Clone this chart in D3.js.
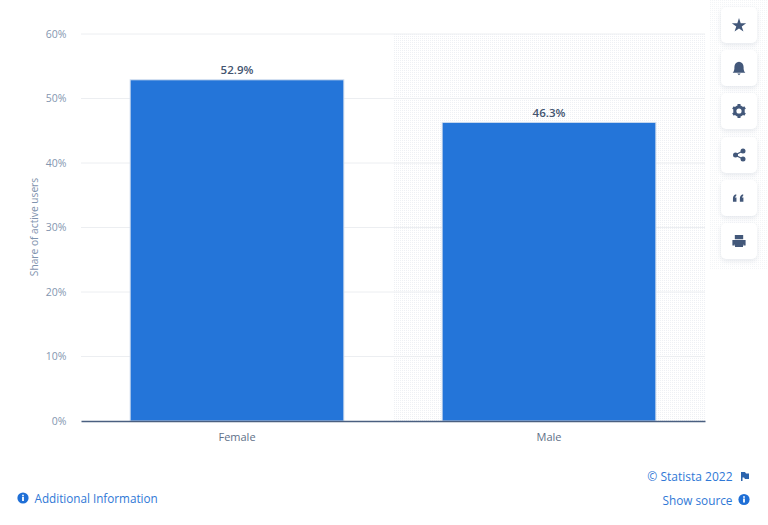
<!DOCTYPE html>
<html>
<head>
<meta charset="utf-8">
<script src="https://cdn.jsdelivr.net/npm/d3@7"></script>
<style>
  html, body { margin: 0; padding: 0; background: #fff; }
  svg { display: block; font-family: "Open Sans", "Noto Sans", sans-serif; }
</style>
</head>
<body>
<svg id="chart" width="768" height="525"></svg>
<script>
const categories = ["Female", "Male"];
const shares = [52.9, 46.3];
const yTicks = [0, 10, 20, 30, 40, 50, 60];
const yTitle = "Share of active users";

const svg = d3.select("#chart");
const plotLeft = 81, plotRight = 705, plotTop = 34, plotBottom = 421;

const x = d3.scaleBand().domain(categories).range([plotLeft, plotRight])
    .paddingInner(0.315).paddingOuter(0.1575);
const y = d3.scaleLinear().domain([0, 60]).range([plotBottom, plotTop]);

// faint dither behind the right half of the plot and the side buttons
const defs = svg.append("defs");
defs.append("pattern")
    .attr("id", "dots").attr("width", 2).attr("height", 2)
    .attr("patternUnits", "userSpaceOnUse")
  .append("rect").attr("width", 1).attr("height", 1).attr("fill", "#eef0f4");
defs.append("filter").attr("id", "soft")
    .attr("x", "-30%").attr("y", "-30%").attr("width", "160%").attr("height", "160%")
  .append("feDropShadow")
    .attr("dx", 0).attr("dy", 2).attr("stdDeviation", 2.5)
    .attr("flood-color", "#d5dae2").attr("flood-opacity", 0.6);

svg.append("rect").attr("x", 393).attr("y", plotTop).attr("width", plotRight - 393).attr("height", plotBottom - plotTop)
    .attr("fill", "url(#dots)");
svg.append("rect").attr("x", 710).attr("y", 0).attr("width", 58).attr("height", 270)
    .attr("fill", "url(#dots)").attr("opacity", 0.7);

// grid
svg.append("g").selectAll("line").data(yTicks.filter(d => d > 0)).join("line")
    .attr("x1", plotLeft).attr("x2", plotRight)
    .attr("y1", d => y(d)).attr("y2", d => y(d))
    .attr("stroke", "#eceef1").attr("stroke-width", 1);

// y axis
const yAxis = svg.append("g")
    .attr("transform", `translate(${plotLeft},0)`)
    .call(d3.axisLeft(y).tickValues(yTicks).tickFormat(d => d + "%").tickSize(0).tickPadding(14.5));
yAxis.attr("font-family", null);
yAxis.select(".domain").remove();
yAxis.selectAll("text").attr("fill", "#8496b0").attr("font-size", 10.5);

svg.append("text")
    .attr("transform", "translate(37.5,227) rotate(-90)")
    .attr("text-anchor", "middle")
    .attr("fill", "#7f93ae").attr("font-size", 10.2)
    .text(yTitle);

// bars
const rows = categories.map((c, i) => ({c, v: shares[i]}));
svg.append("g").selectAll("rect").data(rows).join("rect")
    .attr("x", d => x(d.c))
    .attr("y", d => y(d.v))
    .attr("width", x.bandwidth())
    .attr("height", d => y(0) - y(d.v))
    .attr("fill", "#2475d9")
    .attr("stroke", "#d3dfef").attr("stroke-width", 1);

svg.append("g").selectAll("text").data(rows).join("text")
    .attr("x", d => x(d.c) + x.bandwidth() / 2)
    .attr("y", d => y(d.v) - 5.5)
    .attr("text-anchor", "middle")
    .attr("fill", "#43546f").attr("font-size", 11.5).attr("font-weight", 600)
    .text(d => d.v.toFixed(1) + "%");

// x axis
const xAxis = svg.append("g")
    .attr("transform", `translate(0,${plotBottom})`)
    .call(d3.axisBottom(x).tickSize(0).tickPadding(12));
xAxis.attr("font-family", null);
xAxis.select(".domain").attr("stroke", "#4a5f80").attr("stroke-width", 1.5);
xAxis.selectAll("text").attr("fill", "#5f7189").attr("font-size", 11);

// footer
const blue = "#2f78d6";
function infoIcon(cx, cy) {
  svg.append("circle").attr("cx", cx).attr("cy", cy).attr("r", 5.6).attr("fill", "#1f6fd6");
  svg.append("circle").attr("cx", cx).attr("cy", cy - 2.5).attr("r", 0.9).attr("fill", "#fff");
  svg.append("rect").attr("x", cx - 0.9).attr("y", cy - 1).attr("width", 1.8).attr("height", 4).attr("fill", "#fff");
}
infoIcon(23, 498);
svg.append("text").attr("x", 34.5).attr("y", 502.5)
    .attr("fill", blue).attr("font-size", 11.7).text("Additional Information");

svg.append("text").attr("x", 732.5).attr("y", 481)
    .attr("text-anchor", "end").attr("fill", blue).attr("font-size", 12).text("© Statista 2022");
svg.append("path").attr("transform", "translate(740,472)")
    .attr("d", "M1 0h4l1 1.500h3v5.500h-4l-1-1.500h-1.500v3.500h-1.500z").attr("fill", "#2c64ad");
svg.append("text").attr("x", 732.5).attr("y", 504.5)
    .attr("text-anchor", "end").attr("fill", blue).attr("font-size", 11.8).text("Show source");
infoIcon(744, 499.5);

// side buttons
const buttonTops = [7, 50, 93, 137, 180, 223];
const iconColor = "#43587a";
const icons = [
  g => g.append("path").attr("d", d3.symbol(d3.symbolStar, 64)()).attr("transform", "translate(0,0.5)").attr("fill", iconColor),
  g => g.append("path").attr("transform", "translate(0,-0.5) scale(1.15)")
      .attr("d", "M-5.500 4.500c1.500-1.500 1.500-3 1.500-5a4 4.500 0 0 1 8 0c0 2 0 3.500 1.500 5zM-1.500 5.300h3l-1.500 1.500z").attr("fill", iconColor),
  g => {
    g.append("circle").attr("r", 4.2).attr("fill", "none").attr("stroke", iconColor).attr("stroke-width", 3.2);
    g.selectAll("rect").data(d3.range(6)).join("rect")
        .attr("x", -1.5).attr("y", -7).attr("width", 3).attr("height", 2.4)
        .attr("transform", d => `rotate(${d * 60})`).attr("fill", iconColor);
  },
  g => {
    g.append("path").attr("d", "M4-4L-4 0L4 4").attr("fill", "none").attr("stroke", iconColor).attr("stroke-width", 1.3);
    g.selectAll("circle").data([[4, -4], [-3.5, 0], [4, 4]]).join("circle")
        .attr("cx", d => d[0]).attr("cy", d => d[1]).attr("r", 2.5).attr("fill", iconColor);
  },
  g => g.append("path").attr("transform", "translate(0,1) scale(1.1)")
      .attr("d", "M-5.500-.5c0-2 1-3.500 3-3.800v1.500c-.8.3-1.200.8-1.200 1.500h1.400v3.800h-3.200zM.8-.5c0-2 1-3.500 3-3.800v1.500c-.8.3-1.200.8-1.200 1.500h1.400v3.800h-3.200z").attr("fill", iconColor),
  g => {
    g.append("path").attr("transform", "scale(1.1)")
        .attr("d", "M-3.800-1.500v-4h7.600v4zM-6-.8h12v5h-2.200v-1.500h-7.600v1.500h-2.200z").attr("fill", iconColor);
    g.append("rect").attr("x", -4).attr("y", 2.4).attr("width", 8).attr("height", 3.6).attr("fill", iconColor);
  }
];
const buttons = svg.append("g").selectAll("g").data(buttonTops).join("g")
    .attr("transform", d => `translate(721,${d})`);
buttons.append("rect").attr("width", 36).attr("height", 36).attr("rx", 5)
    .attr("fill", "#fff").attr("filter", "url(#soft)");
buttons.append("g").attr("transform", "translate(18,18)")
    .each(function(d, i) { icons[i](d3.select(this)); });
</script>
</body>
</html>
